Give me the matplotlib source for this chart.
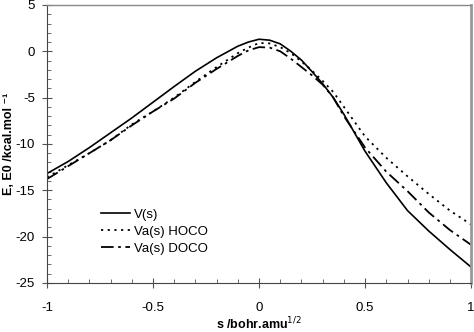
import numpy as np
import matplotlib
matplotlib.use("Agg")
import matplotlib.pyplot as plt
from matplotlib.ticker import MultipleLocator

plt.rcParams['font.family'] = ['Liberation Sans', 'DejaVu Sans']

# reaction coordinate s (bohr.amu^1/2)
s = [-1.0, -0.9, -0.8, -0.7, -0.6, -0.5, -0.4, -0.3, -0.2, -0.1, -0.05,
     0.0, 0.05, 0.1, 0.15, 0.2, 0.25, 0.3, 0.35, 0.4, 0.45,
     0.5, 0.6, 0.7, 0.8, 0.9, 1.0]

# V(s)
v_mep = [-13.2, -11.9, -10.4, -8.8, -7.2, -5.5, -3.8, -2.15, -0.7, 0.55, 1.0,
         1.3, 1.2, 0.8, 0.0, -0.95, -2.2, -3.5, -5.0, -6.8, -8.8,
         -10.8, -14.2, -17.2, -19.4, -21.4, -23.3]
# Va(s) HOCO
va_hoco = [-13.6, -12.3, -11.0, -9.6, -7.9, -6.5, -5.0, -3.3, -1.7, -0.2, 0.4,
           0.9, 0.85, 0.45, -0.2, -1.1, -2.1, -3.2, -4.4, -6.0, -7.6,
           -9.2, -11.5, -13.5, -15.4, -17.2, -18.7]
# Va(s) DOCO
va_doco = [-13.8, -12.4, -11.0, -9.6, -8.0, -6.5, -5.1, -3.4, -1.9, -0.5, 0.1,
           0.45, 0.4, 0.0, -0.8, -1.7, -2.6, -3.6, -5.0, -7.0, -8.7,
           -10.4, -13.0, -15.1, -17.4, -19.3, -20.9]

fig = plt.figure(figsize=(4.74, 3.32), dpi=100)
ax = fig.add_axes([0.099, 0.148, 0.895, 0.837])

ax.plot(s, v_mep, color='black', lw=1.2, label='V(s)')
ax.plot(s, va_hoco, color='black', lw=1.3, linestyle=(0, (1.2, 2.5)), label='Va(s) HOCO')
ax.plot(s, va_doco, color='black', lw=1.3, linestyle=(0, (7, 2.5, 1.5, 2.5)), label='Va(s) DOCO')

ax.set_xlim(-1, 1)
ax.set_ylim(-25, 5)
ax.xaxis.set_major_locator(MultipleLocator(0.5))
ax.xaxis.set_minor_locator(MultipleLocator(0.1))
ax.yaxis.set_major_locator(MultipleLocator(5))
ax.yaxis.set_minor_locator(MultipleLocator(1))
ax.xaxis.set_major_formatter(plt.FuncFormatter(lambda v, p: f"{v:g}"))
ax.yaxis.set_major_formatter(plt.FuncFormatter(lambda v, p: f"{v:g}"))

ax.tick_params(which='major', direction='inout', length=7, width=0.8,
               labelsize=9.5, pad=5, color='#555555')
ax.tick_params(which='minor', direction='in', length=3, width=0.6, color='#555555')
ax.tick_params(axis='x', which='major', pad=10)

for side in ['left', 'bottom']:
    ax.spines[side].set_color('#444444')
    ax.spines[side].set_linewidth(0.8)
ax.spines['top'].set_color('#888888')
ax.spines['top'].set_linewidth(1.0)
ax.spines['right'].set_color('#999999')
ax.spines['right'].set_linewidth(2.0)

ax.set_xlabel('s /bohr.amu$^{1/2}$', fontsize=9, fontweight='bold')
ax.set_ylabel('E, E0 /kcal.mol \u207b\u00b9', fontsize=9, fontweight='bold')
ax.xaxis.set_label_coords(0.5, -0.118)
ax.yaxis.set_label_coords(-0.075, 0.5)

ax.legend(loc='upper left', bbox_to_anchor=(0.1, 0.31), frameon=False,
          fontsize=9.5, handlelength=2.2, handletextpad=0.3, labelspacing=0.35)

fig.savefig('out.png', dpi=100)
